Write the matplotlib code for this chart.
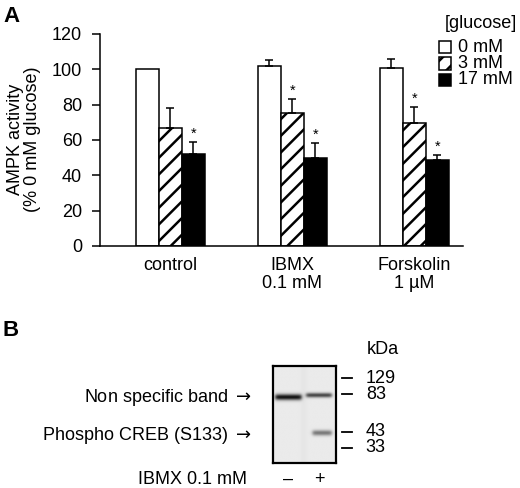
import numpy as np
import matplotlib
matplotlib.use("Agg")
import matplotlib.pyplot as plt
from matplotlib.patches import Rectangle
from matplotlib.transforms import blended_transform_factory

plt.rcParams['font.family'] = ['Liberation Sans', 'DejaVu Sans']
plt.rcParams['hatch.linewidth'] = 1.8

# ---------------- data ----------------
groups = ["control", "IBMX\n0.1 mM", "Forskolin\n1 \u00b5M"]
series = ["0 mM", "3 mM", "17 mM"]
means_0mM = [100.0, 102.0, 100.7]
means_3mM = [66.6, 75.1, 69.8]
means_17mM = [52.2, 49.9, 48.5]
err_0mM = [0.0, 3.4, 5.1]
err_3mM = [11.4, 8.0, 8.7]
err_17mM = [6.8, 8.6, 3.0]
sig_0mM = [False, False, False]
sig_3mM = [False, True, True]
sig_17mM = [True, True, True]
yticks = [0, 20, 40, 60, 80, 100, 120]

# western blot (panel B)
lane_labels = ["\u2013", "+"]
marker_kda = ["129", "83", "43", "33"]
marker_rf = [0.124, 0.289, 0.680, 0.845]        # relative migration in gel
band_names = ["Non specific band", "Phospho CREB (S133)"]
band_label_rf = [0.32, 0.72]
# bands: lane index, rf, darkness
band_lane = [0, 1, 1]
band_rf = [0.32, 0.30, 0.69]
band_dark = [0.85, 0.65, 0.45]

# ---------------- figure ----------------
W, H = 520, 488
fig = plt.figure(figsize=(W / 100, H / 100), dpi=100)

def fx(px):
    return px / W

def fy(py):
    return 1 - py / H

ax = fig.add_axes([fx(100), fy(246), fx(463) - fx(100), fy(34) - fy(246)])

styles = [dict(facecolor="white", hatch=None),
          dict(facecolor="white", hatch="//"),
          dict(facecolor="black", hatch=None)]
all_means = [means_0mM, means_3mM, means_17mM]
all_errs = [err_0mM, err_3mM, err_17mM]
all_sig = [sig_0mM, sig_3mM, sig_17mM]

x = np.arange(len(groups))
bw = 0.189
for i in range(3):
    xs = x + (i - 1) * bw
    m_arr = np.array(all_means[i])
    e_arr = np.array(all_errs[i])
    ax.bar(xs, m_arr, width=bw, edgecolor="black", linewidth=1.1,
           zorder=2, **styles[i])
    has = e_arr > 0
    ax.errorbar(xs[has], m_arr[has],
                yerr=[np.zeros(has.sum()), e_arr[has]],
                fmt="none", ecolor="black", elinewidth=1.1, capsize=3.2,
                capthick=1.1, zorder=3)
    for xi, m, e, s in zip(xs, m_arr, e_arr, all_sig[i]):
        if s:
            ax.annotate("*", (xi, m + e), xytext=(0, 0.8),
                        textcoords="offset points", ha="center", va="bottom",
                        fontsize=10.5)

ax.set_xlim(-0.576, 2.399)
ax.set_ylim(0, 120)
ax.set_yticks(yticks)
ax.set_xticks(x)
ax.set_xticklabels(groups, fontsize=13, linespacing=1.1)
ax.tick_params(axis="x", length=0, pad=8)
ax.tick_params(axis="y", length=6, width=1.1, labelsize=13, pad=7)
for s in ["top", "right"]:
    ax.spines[s].set_visible(False)
for s in ["left", "bottom"]:
    ax.spines[s].set_linewidth(1.1)

fig.text(fx(24), fy(139), "AMPK activity\n(% 0 mM glucose)", rotation=90,
         ha="center", va="center", fontsize=13, linespacing=1.05)

# legend (manual)
fig.text(fx(481), fy(23), "[glucose]", ha="center", va="center", fontsize=13)
row_y = [47, 63.5, 80]
for i, name in enumerate(series):
    r = Rectangle((fx(439), fy(row_y[i] + 6)), fx(12), fy(0) - fy(12),
                  transform=fig.transFigure, edgecolor="black", linewidth=1.1,
                  **styles[i])
    fig.add_artist(r)
    fig.text(fx(458), fy(row_y[i]), name, ha="left", va="center", fontsize=13)

fig.text(fx(3), fy(16), "A", fontsize=16, fontweight="bold", ha="left", va="center")
fig.text(fx(3), fy(331), "B", fontsize=16, fontweight="bold", ha="left", va="center")

# ---------------- gel ----------------
gx0, gx1, gy0, gy1 = 272.7, 336, 366, 463
gax = fig.add_axes([fx(gx0), fy(gy1), fx(gx1) - fx(gx0), fy(gy0) - fy(gy1)])
lane_x = [0.24, 0.72]
band_shift = [0.0, 0.0, 0.05]
band_hwidth = [0.205, 0.20, 0.15]
band_sigma = [0.022, 0.017, 0.02]

ny, nx = 300, 200
yy, xx = np.mgrid[0:1:ny * 1j, 0:1:nx * 1j]
img = np.full((ny, nx), 0.92)
img -= 0.02 * np.exp(-((xx - 0.48) / 0.05) ** 2)
for ln, rf, d, sh, hw, sg in zip(band_lane, band_rf, band_dark, band_shift,
                                 band_hwidth, band_sigma):
    cx = lane_x[ln] + sh
    xprof = 1 / (1 + np.exp(-(xx - (cx - hw)) / 0.015)) * \
        1 / (1 + np.exp((xx - (cx + hw)) / 0.015))
    yprof = np.exp(-0.5 * ((yy - rf) / sg) ** 2)
    img -= d * xprof * yprof
img = np.clip(img, 0, 1)
gax.imshow(img, cmap="gray", vmin=0, vmax=1, extent=(0, 1, 1, 0),
           aspect="auto", interpolation="bilinear")
gax.set_xlim(0, 1)
gax.set_ylim(1, 0)
gax.set_xticks([])
gax.set_yticks([])
for s in gax.spines.values():
    s.set_linewidth(1.6)

tr = blended_transform_factory(gax.transAxes, gax.transData)
for lab, rf in zip(marker_kda, marker_rf):
    gax.plot([1.095, 1.253], [rf, rf], color="black", lw=1.3,
             transform=tr, clip_on=False)
    gax.text(1.47, rf, lab, transform=tr, ha="left", va="center", fontsize=13)
gax.text(1.49, -0.17, "kDa", transform=tr, ha="left", va="center", fontsize=13)

trb = blended_transform_factory(gax.transData, gax.transAxes)
for lx, lab in zip(lane_x, lane_labels):
    gax.text(lx + 0.01, -0.165, lab, transform=trb, ha="center", va="center",
             fontsize=13)

for name, rf in zip(band_names, band_label_rf):
    fig.text(fx(252), fy(gy0 + rf * (gy1 - gy0)), name + " $\\rightarrow$",
             ha="right", va="center", fontsize=13)
fig.text(fx(247), fy(479), "IBMX 0.1 mM", ha="right", va="center", fontsize=13)

fig.savefig("out.png", dpi=100)
